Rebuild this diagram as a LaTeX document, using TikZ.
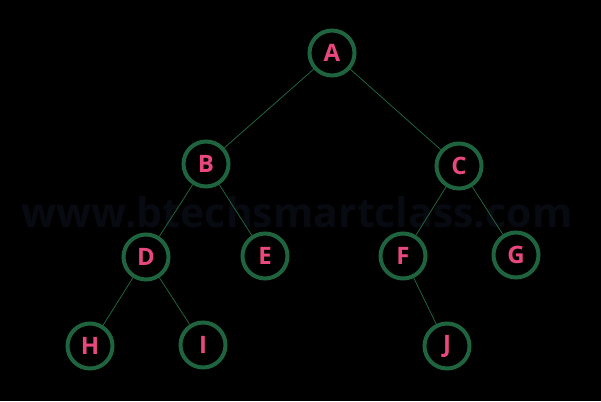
\documentclass[tikz,border=0pt]{standalone}
\usepackage{fontspec}
\setmainfont{Open Sans}
\usepackage{tikz}
\usetikzlibrary{
  positioning,
  backgrounds
}
\definecolor{ringgreen}{RGB}{30,100,62}
\definecolor{letterpink}{RGB}{232,72,125}
\definecolor{markdark}{RGB}{8,10,17}

\begin{document}
\begin{tikzpicture}[
      x=1pt,y=-1pt,
      vertex/.style={
         circle,
         minimum size=45pt,
         inner sep=0pt,
         line width=4pt,
         draw=ringgreen,
         text=letterpink,
         font=\bfseries\fontsize{24}{24}\selectfont
      },
      link/.style={draw=ringgreen,line width=0.8pt},
      watermark/.style={
         text=markdark,
         font=\bfseries\fontsize{41}{41}\selectfont
      }
    ]
    \fill[black] (0,0) rectangle (601,401);
    \useasboundingbox (0,0) rectangle (601,401);
    \node (mark) [watermark] at (297,212) {www.btechsmartclass.com};
    % tree nodes
    \node (nA) [vertex] at (332,53)  {A};
    \node (nB) [vertex] at (206,164) {B};
    \node (nC) [vertex] at (459,166) {C};
    \node (nD) [vertex] at (146,257) {D};
    \node (nE) [vertex] at (265,256) {E};
    \node (nF) [vertex] at (403,256) {F};
    \node (nG) [vertex] at (516,255) {G};
    \node (nH) [vertex] at (90,346)  {H};
    \node (nI) [vertex] at (203,345) {I};
    \node (nJ) [vertex] at (447,346) {J};
    % edges
    \foreach \from/\to in {nA/nB,nA/nC,nB/nD,nB/nE,nC/nF,nC/nG,nD/nH,nD/nI,nF/nJ}
       \draw[link] (\from) -- (\to);
\end{tikzpicture}
\end{document}
